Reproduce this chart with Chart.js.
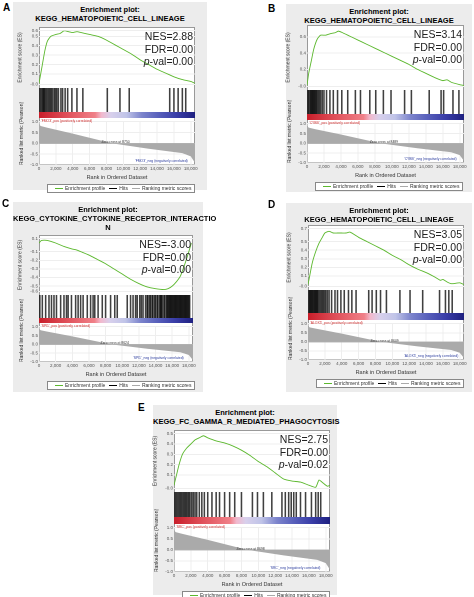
<!DOCTYPE html>
<html>
<head>
<meta charset="utf-8">
<script src="https://cdn.jsdelivr.net/npm/chart.js@4.4.1/dist/chart.umd.min.js"></script>
<style>
body { margin:0; width:474px; height:597px; background:#fff; position:relative; font-family:Arial, "Liberation Sans", sans-serif; overflow:hidden; }
.abs { position:absolute; }
.box { position:absolute; background:#ececec; }
.letter { position:absolute; font-weight:bold; font-size:10px; }
.ttl { position:absolute; text-align:center; font-weight:bold; font-size:7.5px; line-height:9px; }
.stat { position:absolute; text-align:right; font-size:10.5px; line-height:12.5px; color:#222; }
.strip { position:absolute; background:linear-gradient(to right,#c81e2a 0%,#e0505a 18%,#f08088 36%,#f2b8cc 40%,#d8d0ec 46%,#c0c4e8 56%,#7c84cc 66%,#5a62bc 76%,#3a3ea8 88%,#1e2080 100%); }
.lab { position:absolute; font-size:3.4px; white-space:nowrap; }
.ylab { position:absolute; font-size:5px; white-space:nowrap; transform:rotate(-90deg); transform-origin:left top; color:#333; }
.leg { position:absolute; background:#fff; border:1px solid #888; font-size:5px; line-height:7px; white-space:nowrap; padding:0 3px; color:#333; }
.leg i { display:inline-block; width:8px; height:0; border-top:1px solid; vertical-align:middle; margin:0 2px 0 4px; }
canvas { position:absolute; }
</style>
</head>
<body>
<script>
// ---- data ----
const rankA = [0,200,400,700,1000,1400,2000,2500,3000,3500,4000,4500,5000,6000,7000,8000,9000,10000,11000,12000,13000,14000,15000,16000,17000,18000,18500];
const esA   = [0,0.1,0.2,0.35,0.45,0.5,0.52,0.53,0.56,0.55,0.54,0.55,0.54,0.52,0.5,0.46,0.41,0.36,0.31,0.25,0.2,0.15,0.11,0.07,0.04,0.02,0];
const hitsA = [100,250,400,500,600,700,850,1000,1150,1300,1450,1600,1800,1950,2100,2300,2600,2800,3100,3400,3900,4500,5200,8100,9600,10700,15500,16000,16500,17000,17400];

const rankB = [0,200,500,800,1200,1600,2200,2800,3300,3700,4200,5000,6000,7000,8000,9000,10000,11000,12000,13000,14000,15000,16000,16500,17000,18000,18500];
const esB   = [0,0.15,0.3,0.45,0.57,0.62,0.62,0.64,0.65,0.67,0.65,0.61,0.56,0.51,0.46,0.41,0.36,0.31,0.26,0.2,0.15,0.1,0.06,0.07,0.04,0.01,0];
const hitsB = [100,200,350,450,550,650,750,850,950,1050,1150,1300,1450,1600,1800,2000,2300,2700,3100,3600,4100,4800,5700,6300,7400,8100,9000,9900,11500,12300,14400,15800,16100,17200,17900];

const rankC = [0,300,1000,2000,3000,4000,4500,5000,6000,7000,8000,9000,10000,11000,12000,13000,14000,15000,15500,16000,16500,17000,17500,18000,18300];
const esC   = [0,0.03,0.03,0,-0.04,-0.07,-0.08,-0.1,-0.14,-0.19,-0.24,-0.3,-0.36,-0.42,-0.47,-0.51,-0.53,-0.54,-0.53,-0.5,-0.45,-0.38,-0.25,-0.1,0];
const hitsC = [100,400,800,1200,1500,1800,2100,2600,3000,3300,3500,3900,4400,4700,5000,5300,5800,6200,6500,6700,7100,7600,8000,8600,9100,9400,10600,11000,11300,11600,11800,12100,12300,12500,12800,13000,13100,13300,13400,13600,13700,13900,14000,14200,14300,14500,14600,14700,14800,15000,15100,15300,15400,15500,15600,15700,15800,15900,16000,16100,16200,16300,16400,16500,16600,16700,16800,16900,17000,17100,17200,17300,17400,17500,17600,17700,17800,17900,18000,18100];

const rankD = [0,200,500,900,1300,1700,2000,2500,3000,3500,4000,4500,5000,6000,7000,8000,9000,10000,11000,12000,13000,14000,15000,15700,16000,16500,17000,18000,18500];
const esD   = [0,0.1,0.25,0.38,0.48,0.55,0.6,0.62,0.6,0.6,0.6,0.6,0.61,0.55,0.5,0.45,0.4,0.34,0.29,0.23,0.18,0.14,0.09,0.05,0.06,0.03,0.01,0.02,0];
const hitsD = [100,200,300,400,500,600,700,800,900,1000,1100,1200,1350,1500,1650,1800,1950,2100,2300,2500,2800,3200,3500,3900,4300,4800,5200,5700,7200,7600,8100,8600,9300,10900,12100,13600,15600,16300,16700,17100];

const rankE = [0,300,600,1000,1500,2000,2500,3000,3500,4000,5000,6000,7000,8000,9000,10000,11000,12000,13000,14000,15000,16000,16800,17200,17700,18200,18500];
const esE   = [0,0.1,0.2,0.3,0.36,0.4,0.44,0.46,0.48,0.46,0.43,0.41,0.38,0.34,0.29,0.23,0.18,0.12,0.06,0.04,0.03,0,-0.02,0.05,0.02,-0.01,0];
const hitsE = [100,250,400,550,700,850,1000,1150,1300,1450,1600,1750,1900,2100,2300,2500,2700,3000,3300,3600,4000,4500,5000,5400,6000,6600,7200,8000,9300,9900,10600,11600,12800,13200,13600,13900,14200,14500,15000,15600,16300,16800,17100,17400];

const metricRank = [0,200,1000,4000,8700,13000,17000,18000,18500];
const metricVal  = [0.88,0.8,0.72,0.45,0,-0.25,-0.45,-0.6,-0.9];

const xTicks = [0,2000,4000,6000,8000,10000,12000,14000,16000,18000];

const panels = [
  { letter:'A', lx:3, ly:2, box:[13,2,194,188], name:'KEGG_HEMATOPOIETIC_CELL_LINEAGE',
    x0:39, x1:195, es:[27,88], hits:[88,112], strip:[112,118], met:[118,165],
    rank:rankA, es_:esA, hits_:hitsA, ymin:-0.01, ymax:0.56,
    nes:'NES=2.88', fdr:'FDR=0.00', p:'0.00', gene:"'FMO3'", zero:'8750' },
  { letter:'B', lx:268, ly:3, box:[286,4,186,188], name:'KEGG_HEMATOPOIETIC_CELL_LINEAGE',
    x0:307, x1:464, es:[25,90], hits:[90,114], strip:[114,120], met:[120,163],
    rank:rankB, es_:esB, hits_:hitsB, ymin:-0.01, ymax:0.7,
    nes:'NES=3.14', fdr:'FDR=0.00', p:'0.00', gene:"'CYBB'", zero:'8489' },
  { letter:'C', lx:2, ly:198, box:[13,202,190,190], name:'KEGG_CYTOKINE_CYTOKINE_RECEPTOR_INTERACTIO<br>N',
    x0:39, x1:193, es:[235,295], hits:[295,318], strip:[318,323], met:[323,362],
    rank:rankC, es_:esC, hits_:hitsC, ymin:-0.56, ymax:0.05,
    nes:'NES=-3.00', fdr:'FDR=0.00', p:'0.00', gene:"'SPI1'", zero:'8624' },
  { letter:'D', lx:268, ly:199, box:[286,203,186,189], name:'KEGG_HEMATOPOIETIC_CELL_LINEAGE',
    x0:308, x1:464, es:[225,290], hits:[290,313], strip:[313,320], met:[320,360],
    rank:rankD, es_:esD, hits_:hitsD, ymin:-0.02, ymax:0.65,
    nes:'NES=3.05', fdr:'FDR=0.00', p:'0.00', gene:"'ALOX5'", zero:'8609' },
  { letter:'E', lx:138, ly:402, box:[153,405,184,190], name:'KEGG_FC_GAMMA_R_MEDIATED_PHAGOCYTOSIS',
    x0:174, x1:330, es:[430,492], hits:[492,517], strip:[517,524], met:[524,572],
    rank:rankE, es_:esE, hits_:hitsE, ymin:-0.03, ymax:0.5,
    nes:'NES=2.75', fdr:'FDR=0.00', p:'0.02', gene:"'SRC'", zero:'8698' }
];

const YW = 22;
const tickFont = { size: 4.5, family: 'Arial' };

function el(cls, css, html) {
  const d = document.createElement('div');
  d.className = cls;
  Object.assign(d.style, css);
  if (html !== undefined) d.innerHTML = html;
  document.body.appendChild(d);
  return d;
}
function canvasAt(left, top, w, h) {
  const c = document.createElement('canvas');
  c.style.left = left + 'px'; c.style.top = top + 'px';
  c.width = w; c.height = h;
  document.body.appendChild(c);
  return c;
}
function fixY(scale) { scale.width = YW; }

panels.forEach(function(p) {
  const b = p.box;
  el('box', { left:b[0]+'px', top:b[1]+'px', width:b[2]+'px', height:b[3]+'px' });
  el('letter', { left:p.lx+'px', top:p.ly+'px' }, p.letter);
  el('ttl', { left:b[0]+'px', top:(b[1]+3)+'px', width:b[2]+'px' }, 'Enrichment plot:<br>' + p.name);
  const pw = p.x1 - p.x0;
  // white plot background
  el('abs', { left:p.x0+'px', top:p.es[0]+'px', width:pw+'px', height:(p.met[1]-p.es[0])+'px', background:'#fff', border:'0.5px solid #999', boxSizing:'border-box' });

  // ES line
  new Chart(canvasAt(p.x0 - YW, p.es[0], pw + YW, p.es[1] - p.es[0]), {
    type: 'line',
    data: { datasets: [{ data: p.rank.map(function(r, i) { return { x: r, y: p.es_[i] }; }),
      borderColor: '#5cb82e', borderWidth: 0.9, pointRadius: 0, tension: 0.2 }] },
    options: {
      animation: false, responsive: false, devicePixelRatio: 2,
      layout: { padding: 0 },
      plugins: { legend: { display: false }, tooltip: { enabled: false } },
      scales: {
        x: { type: 'linear', min: 0, max: 18500, display: false },
        y: { min: p.ymin, max: p.ymax, afterFit: fixY,
             ticks: { stepSize: 0.1, font: tickFont, color: '#555', padding: 1,
                      callback: function(v) { return Math.abs(v) < 1e-9 ? '0.0' : v.toFixed(1); } },
             grid: { color: '#eee', drawTicks: false },
             border: { display: false },
             title: { display: true, text: 'Enrichment score (ES)', font: { size: 5, family: 'Arial' }, color: '#333', padding: 0 } }
      }
    }
  });
  el('stat', { left:(p.x1-80)+'px', top:(p.es[0]+3)+'px', width:'78px' },
     p.nes + '<br>' + p.fdr + '<br><i>p</i>-val=' + p.p);

  // hits: thin full-height bars on a linear rank axis
  new Chart(canvasAt(p.x0, p.hits[0], pw, p.hits[1] - p.hits[0]), {
    type: 'bar',
    data: { datasets: [{ data: p.hits_.map(function(r) { return { x: r, y: 1 }; }),
      backgroundColor: 'rgba(0,0,0,0.75)', barThickness: 0.9, borderWidth: 0 }] },
    options: {
      animation: false, responsive: false, devicePixelRatio: 2,
      layout: { padding: 0 },
      plugins: { legend: { display: false }, tooltip: { enabled: false } },
      scales: { x: { type: 'linear', min: 0, max: 18500, display: false, offset: false },
                y: { min: 0, max: 1, display: false } }
    }
  });
  el('strip', { left:p.x0+'px', top:p.strip[0]+'px', width:pw+'px', height:(p.strip[1]-p.strip[0])+'px' });

  // ranked list metric
  const mh = p.met[1] - p.met[0];
  new Chart(canvasAt(p.x0 - YW, p.met[0], pw + YW + 4, mh + 17), {
    type: 'line',
    data: { datasets: [{ data: metricRank.map(function(r, i) { return { x: r, y: metricVal[i] }; }),
      borderWidth: 0, pointRadius: 0, fill: 'origin', backgroundColor: '#aaa' }] },
    options: {
      animation: false, responsive: false, devicePixelRatio: 2,
      layout: { padding: { right: 4 } },
      plugins: { legend: { display: false }, tooltip: { enabled: false } },
      scales: {
        x: { type: 'linear', min: 0, max: 18500,
             afterBuildTicks: function(s) { s.ticks = xTicks.map(function(v) { return { value: v }; }); },
             afterFit: function(s) { s.height = 17; },
             ticks: { font: tickFont, color: '#555', padding: 1, maxRotation: 0,
                      callback: function(v) { return v.toLocaleString('en-US'); } },
             grid: { color: '#eee', drawTicks: false },
             border: { display: false },
             title: { display: true, text: 'Rank in Ordered Dataset', font: { size: 5.5, family: 'Arial' }, color: '#333', padding: 1 } },
        y: { min: -1, max: 1, afterFit: fixY,
             ticks: { stepSize: 0.5, font: tickFont, color: '#555', padding: 1,
                      callback: function(v) { return v.toFixed(1); } },
             grid: { color: function(c) { return c.tick.value === 0 ? '#bbb' : '#eee'; }, drawTicks: false },
             border: { display: false } }
      }
    }
  });
  el('ylab', { left:(p.x0-21)+'px', top:(p.met[1])+'px' }, 'Ranked list metric (Pearson)');
  el('lab', { left:(p.x0+2)+'px', top:(p.met[0]+0.5)+'px', color:'#d03030' }, p.gene + '_pos (positively correlated)');
  el('lab', { left:(p.x0 + pw*0.4)+'px', top:(p.met[0] + mh*0.47)+'px', color:'#333' }, 'Zero cross at ' + p.zero);
  el('lab', { left:(p.x1 - 60)+'px', top:(p.met[1] - 6)+'px', color:'#3040a0' }, p.gene + '_neg (negatively correlated)');

  // legend
  el('leg', { left:(p.x0+8)+'px', top:(p.met[1]+19)+'px' },
     '<i style="border-color:#5cb82e"></i>Enrichment profile<i style="border-color:#000"></i>Hits<i style="border-color:#aaa"></i>Ranking metric scores');
});
</script>
</body>
</html>
